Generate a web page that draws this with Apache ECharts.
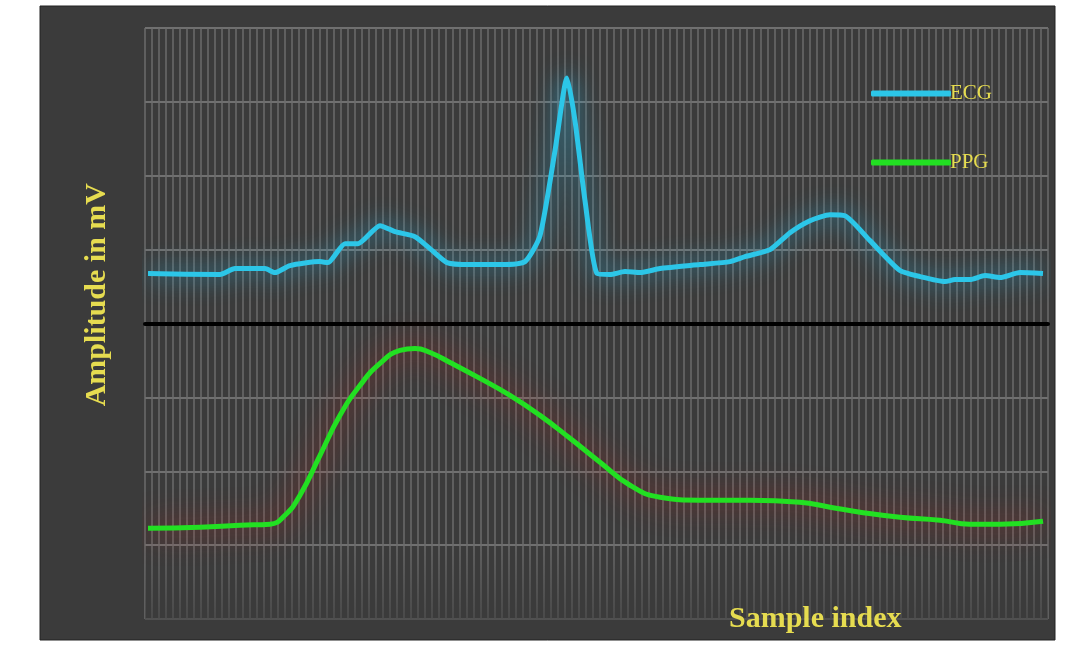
<!DOCTYPE html>
<html>
<head>
<meta charset="utf-8">
<script src="https://cdn.jsdelivr.net/npm/echarts@6/dist/echarts.min.js"></script>
<style>html,body{margin:0;background:#fff}#main{width:1080px;height:650px}</style>
</head>
<body>
<div id="main"></div>
<script>
// sample index (px units of the plot) and amplitude (arbitrary units, 74 per grid row)
var ecgData = [[3,50],[75,49],[90,55],[120,55],[130,51],[145,58],[175,62],[183,61],[200,80],[213,80],[235,98],[250,92],[270,87],[285,75],[302,61],[325,59],[355,59],[380,62],[395,88],[410,173],[422,246],[430,203],[440,123],[452,50],[465,49],[480,52],[495,51],[515,55],[555,59],[585,62],[600,67],[625,74],[645,91],[665,103],[685,109],[700,108],[725,83],[755,53],[775,47],[800,42],[810,44],[825,44],[840,48],[855,46],[875,51],[898,50]];
var ppgData = [[3,-205],[55,-204],[95,-202],[125,-201],[140,-192],[155,-172],[175,-132],[195,-92],[215,-62],[235,-40],[255,-27],[270,-25],[285,-29],[305,-39],[335,-55],[365,-72],[395,-92],[425,-115],[455,-139],[485,-162],[515,-174],[555,-177],[605,-177],[655,-179],[685,-184],[715,-189],[755,-194],[795,-197],[825,-201],[855,-201],[898,-198]];

var chart = echarts.init(document.getElementById('main'));
chart.setOption({
    backgroundColor: '#fff',
    graphic: [
        { type: 'rect', z: -10, shape: { x: 40, y: 6, width: 1015, height: 634 }, style: { fill: '#3b3b3b', stroke: '#222', lineWidth: 1 } },
        { type: 'rect', z: 5, shape: { x: 145, y: 545, width: 903, height: 75 },
          style: { fill: new echarts.graphic.LinearGradient(0, 0, 0, 1, [{ offset: 0, color: 'rgba(59,59,59,0)' }, { offset: 1, color: 'rgba(59,59,59,0.6)' }]) } },
        { type: 'text', z: 10, left: 82, top: 183, rotation: Math.PI / 2, style: { text: 'Amplitude in mV', fill: '#e6dc50', font: 'bold 30px "Liberation Serif"' } },
        { type: 'text', z: 10, left: 729, top: 604, style: { text: 'Sample index', fill: '#e6dc50', font: 'bold 30px "Liberation Serif"' } }
    ],
    legend: {
        data: ['ECG', 'PPG'],
        orient: 'vertical',
        left: 866, top: 78,
        icon: 'roundRect',
        itemWidth: 80, itemHeight: 6, itemGap: 48,
        textStyle: { color: '#e6dc50', fontFamily: 'Liberation Serif', fontSize: 21, padding: [0, 0, 0, -6] }
    },
    grid: { left: 145, right: 32, top: 28, bottom: 31 },
    xAxis: {
        type: 'value', min: 0, max: 903, interval: 7,
        axisLine: { show: true, onZero: true, lineStyle: { color: '#000', width: 4 } },
        axisTick: { show: false }, axisLabel: { show: false },
        splitLine: { show: true, lineStyle: { color: '#6c6c6c', width: 1.5 } }
    },
    yAxis: {
        type: 'value', min: -296, max: 296, interval: 74,
        axisLine: { show: false }, axisTick: { show: false }, axisLabel: { show: false },
        splitLine: { show: true, lineStyle: { color: '#707070', width: 2 } }
    },
    series: [
        {
            name: 'ECG', type: 'line', data: ecgData, symbol: 'none', smooth: 0.2, z: 3,
            itemStyle: { color: '#2cc6e8' },
            lineStyle: { color: '#2cc6e8', width: 5, shadowColor: 'rgba(40,190,240,0.9)', shadowBlur: 25 }
        },
        {
            name: 'PPG', type: 'line', data: ppgData, symbol: 'none', smooth: true, z: 3,
            itemStyle: { color: '#22e022' },
            lineStyle: { color: '#22e022', width: 5, shadowColor: 'rgba(200,40,30,0.9)', shadowBlur: 30 }
        }
    ]
});
</script>
</body>
</html>
